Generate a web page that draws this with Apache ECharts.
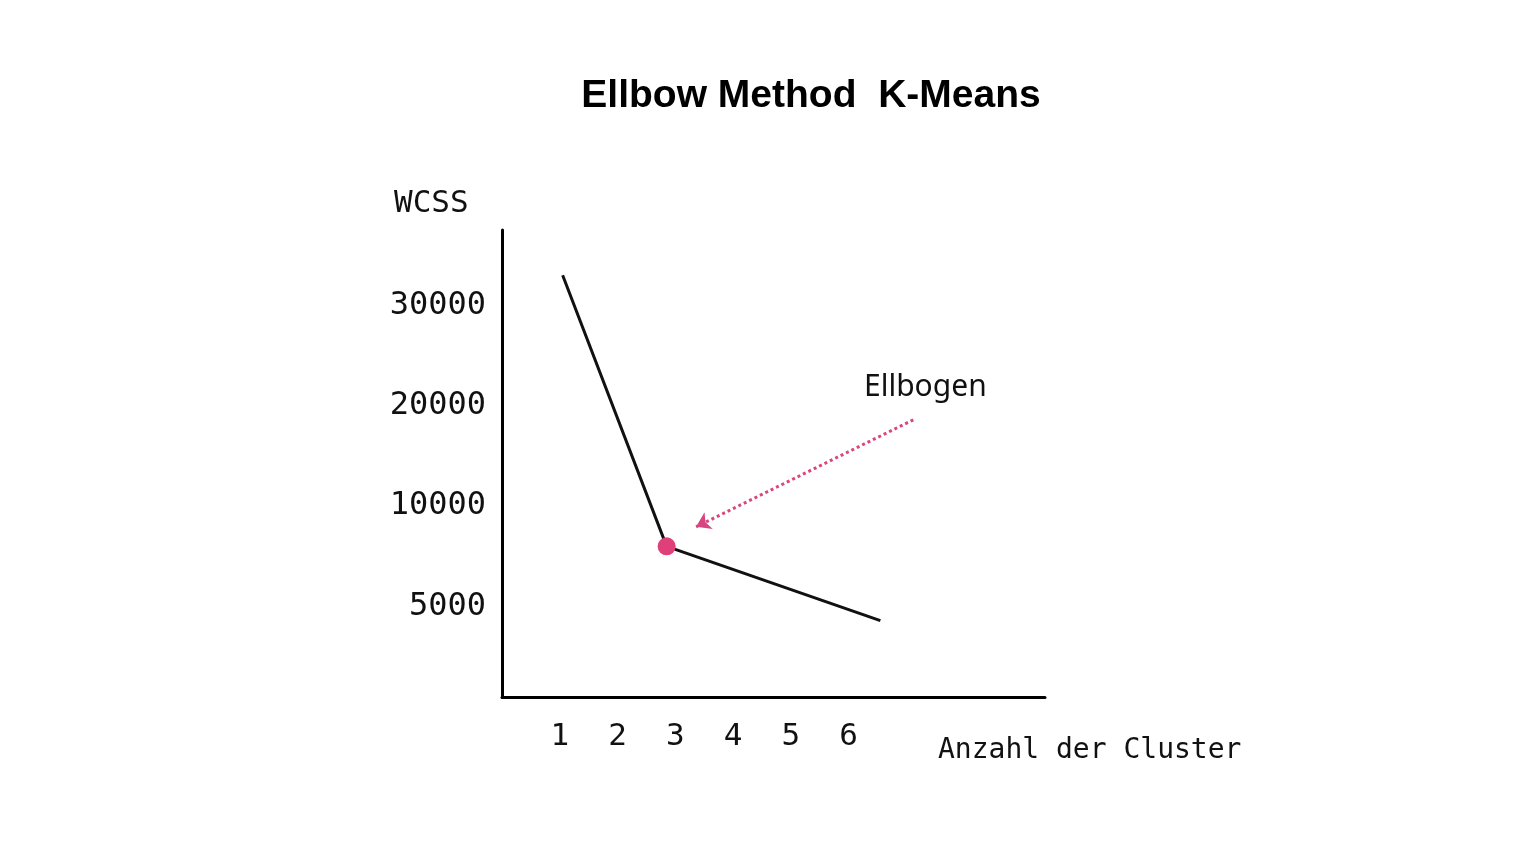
<!DOCTYPE html>
<html><head><meta charset="utf-8">
<script src="https://cdn.jsdelivr.net/npm/echarts@6/dist/echarts.min.js"></script>
<style>html,body{margin:0;background:#fff}#c{width:1536px;height:864px}</style></head>
<body><div id="c"></div>
<script>
const clusters = [1.05, 2.85, 6.55];
const wcss = [33000, 8000, 4300];
const xTicks = [1, 2, 3, 4, 5, 6];
const yTicks = [5000, 10000, 20000, 30000];
const elbowIndex = 1;
const arrowFrom = [7.12, 18600];
const arrowTo = [3.36, 8970];

function lvl(v){
  if (v <= yTicks[1]) return (v - yTicks[0]) / (yTicks[1] - yTicks[0]);
  for (let i = 1; i < yTicks.length - 1; i++)
    if (v <= yTicks[i+1]) return i + (v - yTicks[i]) / (yTicks[i+1] - yTicks[i]);
  const n = yTicks.length - 1;
  return n + (v - yTicks[n]) / (yTicks[n] - yTicks[n-1]);
}
const pts = clusters.map((x,i)=>[x, lvl(wcss[i])]);
const mono = 'DejaVu Sans Mono';
const chart = echarts.init(document.getElementById('c'));
chart.setOption({
  animation:false,
  title:{text:'Ellbow Method  K-Means', left:806, top:72, textAlign:'center',
    textStyle:{fontSize:39, fontWeight:'bold', fontFamily:'Liberation Sans', color:'#000'}},
  grid:{left:502, right:491, top:230, bottom:167},
  xAxis:{type:'value', min:0, max:9.4, splitLine:{show:false},
    axisLine:{onZero:false, lineStyle:{color:'#000', width:3}}, axisTick:{show:false},
    axisLabel:{customValues:xTicks, margin:24, fontSize:31, fontFamily:mono, color:'#111'}},
  yAxis:{type:'value', min:-0.9, max:3.75, splitLine:{show:false},
    axisLine:{show:true, onZero:false, lineStyle:{color:'#000', width:3}}, axisTick:{show:false},
    axisLabel:{customValues:yTicks.map((_,i)=>i), formatter:v=>String(yTicks[Math.round(v)]),
      margin:16, fontSize:32, fontFamily:mono, color:'#111'}},
  graphic:[
    {type:'text', left:394, top:188, style:{text:'WCSS', fontSize:31, fontFamily:mono, fill:'#111'}},
    {type:'text', left:938, top:737, style:{text:'Anzahl der Cluster', fontSize:28, fontFamily:mono, fill:'#111'}},
    {type:'text', left:864, top:372, style:{text:'Ellbogen', fontSize:30, fontFamily:'Noto Sans', fill:'#111'}}
  ],
  series:[
    {type:'line', data:pts, symbol:'none', lineStyle:{color:'#111', width:3},
     markLine:{silent:true, symbol:['none','arrow'], symbolSize:14, label:{show:false},
       lineStyle:{color:'#d9457f', width:3, type:[3,3]},
       data:[[{coord:[arrowFrom[0], lvl(arrowFrom[1])]},{coord:[arrowTo[0], lvl(arrowTo[1])]}]]}},
    {type:'scatter', data:[pts[elbowIndex]], symbolSize:18, itemStyle:{color:'#e0407a', opacity:1}, z:5}
  ]
});
</script></body></html>
